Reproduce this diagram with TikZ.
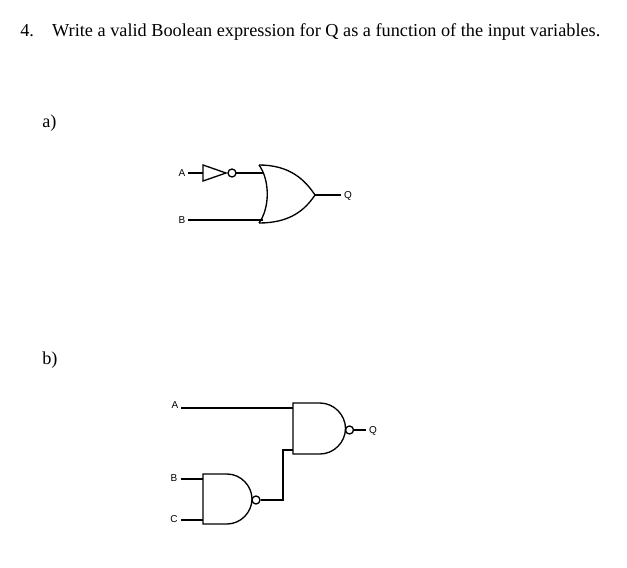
\documentclass[tikz,border=0pt]{standalone}
\usepackage{fontspec}
\setmainfont{Liberation Serif}
\newfontfamily\arial{Liberation Sans}
\begin{document}
\begin{tikzpicture}[x=0.75pt,y=-0.75pt,
  wire/.style={line width=1.6pt},
  gate/.style={line width=1pt},
  lbl/.style={font=\arial\fontsize{7.5}{8}\selectfont,inner sep=0pt},
  hd/.style={font=\fontsize{13.7}{15}\selectfont,anchor=west,inner sep=0pt}]
\useasboundingbox (0,0) rectangle (627,567);
\node[hd] (title) at (20,32) {4.\hspace{1em}Write a valid Boolean expression for Q as a function of the input variables.};
\node[hd] (pa) at (42,123) {a)};
\node[hd] (pb) at (42,360) {b)};
% a)
\node[lbl] (A1) at (182,173) {A};
\node[lbl] (B1) at (182,220) {B};
\node[lbl] (Q1) at (348,196) {Q};
\draw[wire] (188,173) -- (203,173);
\draw[gate] (203,165) -- (226,173) -- (203,181) -- cycle;
\draw[gate] (232,173) circle (4);
\draw[wire] (236,173) -- (263,173);
\draw[wire] (188,220) -- (263,220);
\draw[gate] (259,165) .. controls (270,180) and (270,208) .. (259,223);
\draw[gate] (259,165) .. controls (290,165) and (305,180) .. (315,195);
\draw[gate] (259,223) .. controls (290,223) and (305,210) .. (315,195);
\draw[wire] (315,195) -- (341,195);
% b)
\node[lbl] (A2) at (175,405) {A};
\node[lbl] (B2) at (174,478) {B};
\node[lbl] (C2) at (174,519) {C};
\node[lbl] (Q2) at (373,431) {Q};
\draw[wire] (181,408) -- (293,408);
\draw[gate] (293,403) -- (320,403) .. controls (334,403) and (345.5,415) .. (345.5,428.5) .. controls (345.5,442) and (334,454) .. (320,454) -- (293,454) -- cycle;
\draw[gate] (349.5,430) circle (4);
\draw[wire] (353.5,430) -- (366,430);
\draw[wire] (293,450) -- (283,450) -- (283,500) -- (261,500);
\draw[gate] (203,474) -- (227,474) .. controls (241,474) and (252,486) .. (252,499) .. controls (252,512) and (241,524) .. (227,524) -- (203,524) -- cycle;
\draw[gate] (256,500) circle (4);
\draw[wire] (181,479) -- (203,479);
\draw[wire] (181,520) -- (203,520);
\end{tikzpicture}
\end{document}
